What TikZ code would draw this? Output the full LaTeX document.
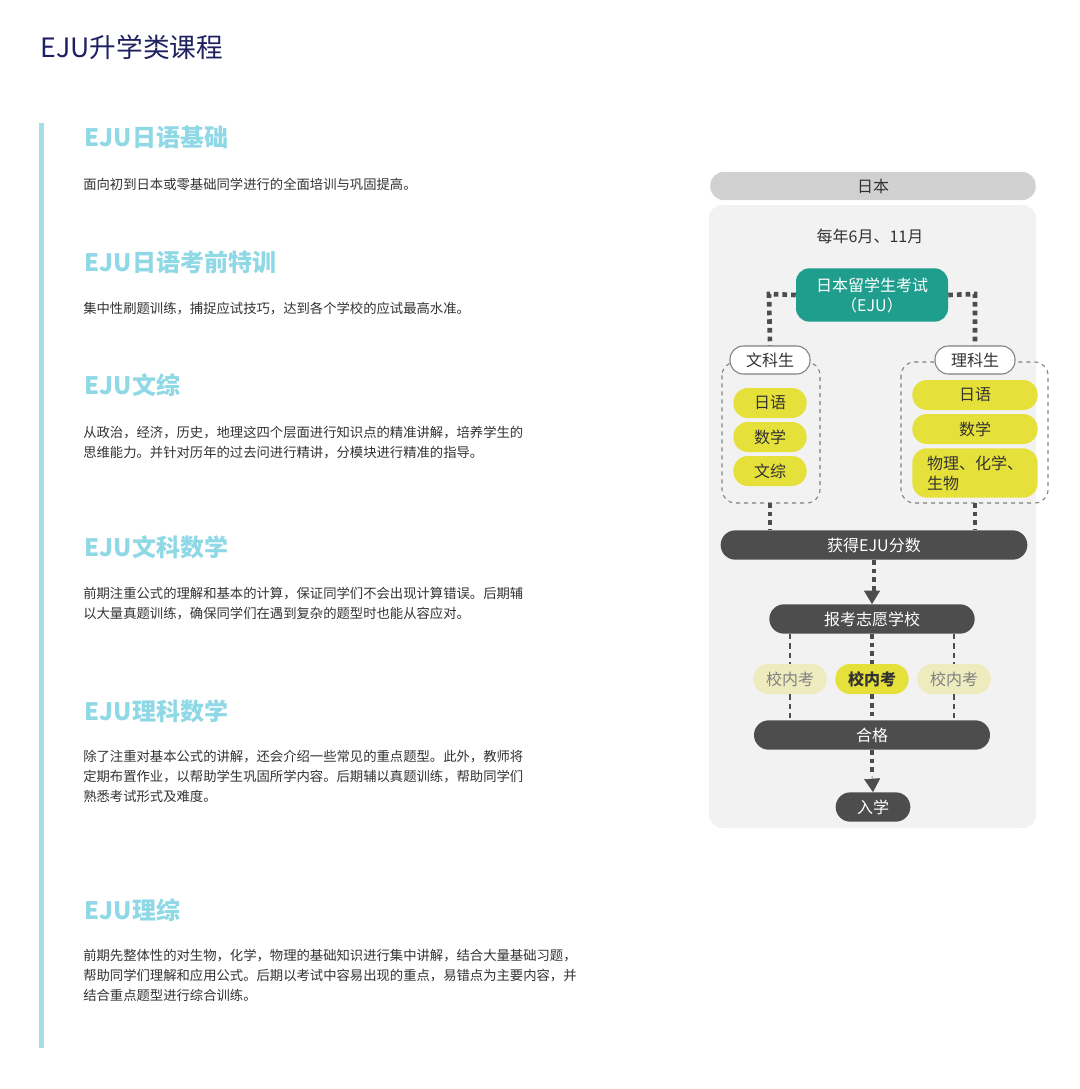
\documentclass[tikz,border=0pt]{standalone}
\usepackage{fontspec}
\setmainfont{Noto Sans CJK SC}
\usetikzlibrary{arrows.meta}
\definecolor{navy}{HTML}{1E2060}
\definecolor{cyanh}{HTML}{8FD8E6}
\definecolor{barc}{HTML}{A6DDE7}
\definecolor{txt}{HTML}{333333}
\definecolor{teal}{HTML}{1F9E8E}
\definecolor{yel}{HTML}{E6E03A}
\definecolor{pyel}{HTML}{EEEBBE}
\definecolor{dark}{HTML}{4D4D4D}
\definecolor{panel}{HTML}{F2F2F2}
\tikzset{
  head/.style={anchor=west,font=\fontsize{18}{20}\selectfont\bfseries,text=cyanh},
  body/.style={anchor=north west,font=\fontsize{10}{15}\selectfont,text=txt,align=left,inner sep=0pt},
  pill/.style={fill=yel,rounded corners=11pt,minimum height=22.5pt,font=\fontsize{12}{14}\selectfont,text=txt,inner sep=1pt},
  darkbar/.style={fill=dark,rounded corners=11pt,minimum height=22pt,font=\fontsize{12}{14}\selectfont,text=white,inner sep=0pt},
  tag/.style={fill=white,draw=gray,line width=0.8pt,rounded corners=10pt,minimum height=21pt,minimum width=60pt,font=\fontsize{12}{14}\selectfont,text=txt,inner sep=1pt},
  dots/.style={draw=dark,line width=3.5pt,dash pattern=on 3.5pt off 3pt},
  dashbox/.style={draw=gray,line width=0.8pt,dashed,rounded corners=10pt},
  thindash/.style={draw=dark,line width=0.8pt,dash pattern=on 4pt off 3pt},
  arr/.style={-{Triangle[width=12pt,length=10pt]},dark}
}
\begin{document}
\begin{tikzpicture}[x=0.75pt,y=-0.75pt]
\useasboundingbox[fill=white] (0,0) rectangle (1080,1089);
\node[anchor=west,font=\fontsize{20}{22}\selectfont,text=navy] (title) at (36,47) {EJU升学类课程};
\fill[barc] (39,123) rectangle (44,1048);
\node[head] (h1) at (80,137) {EJU日语基础};
\node[body] (b1) at (83,178) {面向初到日本或零基础同学进行的全面培训与巩固提高。};
\node[head] (h2) at (80,262) {EJU日语考前特训};
\node[body] (b2) at (83,302) {集中性刷题训练，捕捉应试技巧，达到各个学校的应试最高水准。};
\node[head] (h3) at (80,385) {EJU文综};
\node[body] (b3) at (83,426) {从政治，经济，历史，地理这四个层面进行知识点的精准讲解，培养学生的\\思维能力。并针对历年的过去问进行精讲，分模块进行精准的指导。};
\node[head] (h4) at (80,547) {EJU文科数学};
\node[body] (b4) at (83,587) {前期注重公式的理解和基本的计算，保证同学们不会出现计算错误。后期辅\\以大量真题训练，确保同学们在遇到复杂的题型时也能从容应对。};
\node[head] (h5) at (80,711) {EJU理科数学};
\node[body] (b5) at (83,750) {除了注重对基本公式的讲解，还会介绍一些常见的重点题型。此外，教师将\\定期布置作业，以帮助学生巩固所学内容。后期辅以真题训练，帮助同学们\\熟悉考试形式及难度。};
\node[head] (h6) at (80,910) {EJU理综};
\node[body] (b6) at (83,949) {前期先整体性的对生物，化学，物理的基础知识进行集中讲解，结合大量基础习题，\\帮助同学们理解和应用公式。后期以考试中容易出现的重点，易错点为主要内容，并\\结合重点题型进行综合训练。};
% flowchart
\fill[panel,rounded corners=10pt] (709,205) rectangle (1036,828);
\node[fill=black!18,rounded corners=10pt,minimum width=244pt,minimum height=21pt,font=\fontsize{12}{14}\selectfont,text=txt,inner sep=0pt] (jp) at (873,186) {日本};
\node[font=\fontsize{12}{14}\selectfont,text=txt] (yr) at (870,236) {每年6月、11月};
\node[fill=teal,rounded corners=10pt,minimum width=114pt,minimum height=40pt,align=center,font=\fontsize{12}{15}\selectfont,text=white,inner sep=0pt] (eju) at (872,295) {日本留学生考试\\（EJU）};
\draw[dashbox] (722,362) rectangle (820,503);
\draw[dashbox] (901,362) rectangle (1048,503);
\node[tag] (wk) at (770,360) {文科生};
\node[tag] (lk) at (975,360) {理科生};
\node[pill,minimum width=55pt] (w1) at (770,403) {日语};
\node[pill,minimum width=55pt] (w2) at (770,437) {数学};
\node[pill,minimum width=55pt] (w3) at (770,471) {文综};
\node[pill,minimum width=94pt] (l1) at (975,395) {日语};
\node[pill,minimum width=94pt] (l2) at (975,429) {数学};
\node[pill,minimum width=94pt,minimum height=37pt,align=left,font=\fontsize{12}{15}\selectfont] (l3) at (975,473) {物理、化学、\\生物};
\node[darkbar,minimum width=230pt] (score) at (874,545) {获得EJU分数};
\node[darkbar,minimum width=154pt] (apply) at (872,619) {报考志愿学校};
\node[pill,fill=pyel,text=gray,minimum width=55pt] (s1) at (790,679) {校内考};
\node[pill,minimum width=55pt,font=\fontsize{12}{14}\selectfont\bfseries] (s2) at (872,679) {校内考};
\node[pill,fill=pyel,text=gray,minimum width=55pt] (s3) at (954,679) {校内考};
\node[darkbar,minimum width=177pt] (pass) at (872,735) {合格};
\node[darkbar,minimum width=56pt] (enter) at (873,807) {入学};
% connectors
\coordinate (cl) at (769,294); \coordinate (cr) at (975,294);
\draw[dots] (eju.west) -- (cl) -- (wk.north);
\draw[dots] (eju.east) -- (cr) -- (lk.north);
\draw[dots] (770,503) -- (770,530);
\draw[dots] (975,503) -- (975,530);
\draw[dots] (score.south) -- ++(0,32);
\draw[arr] (872,590) -- (apply.north);
\draw[dots] (apply.south) -- (s2.north);
\draw[dots] (s2.south) -- (pass.north);
\draw[thindash] (apply.south -| s1) -- (s1.north);
\draw[thindash] (s1.south) -- (pass.north -| s1);
\draw[thindash] (apply.south -| s3) -- (s3.north);
\draw[thindash] (s3.south) -- (pass.north -| s3);
\draw[dots] (pass.south) -- ++(0,24);
\draw[arr] (872,776) -- (enter.north);
\end{tikzpicture}
\end{document}
